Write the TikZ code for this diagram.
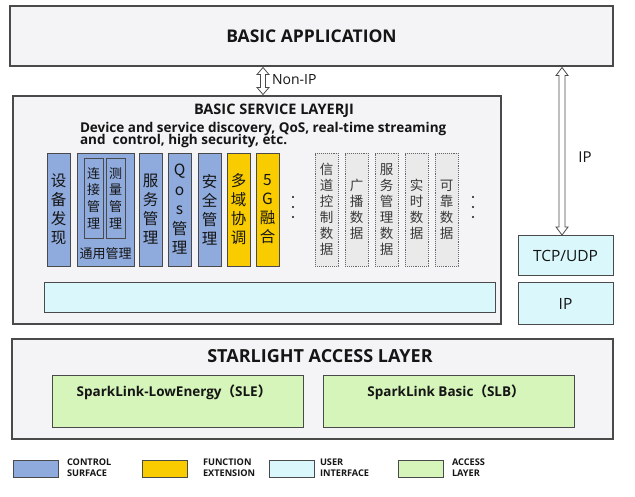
\documentclass[tikz,border=0pt]{standalone}
\usepackage{fontspec}
\setmainfont{Open Sans}
\newfontfamily\cjk{Noto Sans CJK SC}
\usetikzlibrary{calc}
\definecolor{boxgray}{HTML}{F4F3F6}
\definecolor{ctrlblue}{HTML}{8FAADC}
\definecolor{funcyel}{HTML}{F9CC00}
\definecolor{usercyan}{HTML}{DAF8FC}
\definecolor{accgreen}{HTML}{D5F5BA}
\definecolor{dotgray}{HTML}{EAEAEA}
\definecolor{edge}{HTML}{4A4A4A}
\definecolor{ink}{HTML}{151515}
\begin{document}
\begin{tikzpicture}[x=1pt,y=-1pt,
  every node/.style={inner sep=0pt,outer sep=0pt,text=ink},
  layerbox/.style={draw=edge,line width=1.1pt,fill=boxgray,anchor=north west},
  colbox/.style={draw=edge,line width=0.9pt,anchor=north west,minimum width=23pt,minimum height=113pt,font=\cjk\fontsize{15.5}{19}\selectfont,align=center},
  ctrl/.style={colbox,fill=ctrlblue},
  func/.style={colbox,fill=funcyel},
  inner/.style={draw=edge,line width=0.9pt,anchor=north west,minimum width=19pt,minimum height=80pt,font=\cjk\fontsize{13}{16.7}\selectfont,align=center},
  datbox/.style={draw=gray!80!black,densely dotted,line width=0.9pt,fill=dotgray,anchor=north west,minimum width=23pt,minimum height=113pt,font=\cjk\fontsize{13.5}{16}\selectfont,align=center,text=ink!85},
  cyanbox/.style={draw=edge,line width=1pt,fill=usercyan,anchor=north west},
  greenbox/.style={draw=edge,line width=1pt,fill=accgreen,anchor=north west},
  swatch/.style={draw=edge,line width=0.9pt,anchor=north west,minimum width=45pt,minimum height=17pt},
  legtext/.style={anchor=west,align=left,font=\bfseries\fontsize{9.2}{11}\selectfont},
  hollow/.style={draw=edge,line width=0.8pt,fill=white},
  dot/.style={circle,fill=ink,minimum size=2.3pt}
]
\useasboundingbox[fill=white] (0,0) rectangle (635,497);

% Basic application
\node[layerbox,minimum width=603pt,minimum height=60pt,font=\bfseries\fontsize{17.5}{19}\selectfont] (app) at (10,6) {BASIC APPLICATION};

% Basic service layer
\node[layerbox,minimum width=488pt,minimum height=228pt] (svc) at (13,96) {};
\node[font=\bfseries\fontsize{14.5}{16}\selectfont] (svctitle) at (274,111) {BASIC SERVICE LAYERJI};
\node[anchor=west,font=\bfseries\fontsize{13.5}{14}\selectfont] (sub1) at (80,129) {Device and service discovery, QoS, real-time streaming};
\node[anchor=west,font=\bfseries\fontsize{13.5}{14}\selectfont] (sub2) at (80,141) {and\ \ control, high security, etc.};

% control columns
\node[ctrl] (c1) at (47,153) {设\\备\\发\\现};
\node[colbox,fill=ctrlblue,minimum width=57pt] (grp) at (77,153) {};
\node[inner] (in1) at (84,158) {连\\接\\管\\理};
\node[inner] (in2) at (106,158) {测\\量\\管\\理};
\node[font=\cjk\fontsize{13}{15}\selectfont] (grplabel) at (105.5,254) {通用管理};
\node[ctrl] (c3) at (139,153) {服\\务\\管\\理};
\node[ctrl,font=\cjk\fontsize{15.5}{19.5}\selectfont] (c4) at (168,153) {Q\\o\\s\\管\\理};
\node[ctrl] (c5) at (198,153) {安\\全\\管\\理};
\node[func] (c6) at (227,153) {多\\域\\协\\调};
\node[func] (c7) at (256,153) {5\\G\\融\\合};
\node[dot] (da1) at (293,197) {};
\node[dot] (da2) at (293,207) {};
\node[dot] (da3) at (293,217) {};

% data columns
\node[datbox] (d1) at (315,153) {信\\道\\控\\制\\数\\据};
\node[datbox] (d2) at (345,153) {广\\播\\数\\据};
\node[datbox] (d3) at (375,153) {服\\务\\管\\理\\数\\据};
\node[datbox] (d4) at (405,153) {实\\时\\数\\据};
\node[datbox] (d5) at (435,153) {可\\靠\\数\\据};
\node[dot] (db1) at (473,197) {};
\node[dot] (db2) at (473,207) {};
\node[dot] (db3) at (473,217) {};

% user interface bar
\node[cyanbox,minimum width=451pt,minimum height=30pt] (bar) at (44,283) {};

% TCP/UDP and IP
\node[cyanbox,minimum width=95pt,minimum height=40pt,font=\fontsize{15.5}{17}\selectfont] (tcp) at (518,236) {TCP/UDP};
\node[cyanbox,minimum width=95pt,minimum height=42pt,font=\fontsize{15.5}{17}\selectfont] (ip) at (518,283) {IP};

% Starlight access layer
\node[layerbox,minimum width=601pt,minimum height=100pt] (star) at (12,339) {};
\node[font=\bfseries\fontsize{18}{20}\selectfont] (startitle) at (320,356) {STARLIGHT ACCESS LAYER};
\node[greenbox,minimum width=251pt,minimum height=52pt] (sle) at (52,375) {};
\node[font=\bfseries\fontsize{13.5}{15}\selectfont] (sletext) at (174,392) {SparkLink-LowEnergy{\cjk （}SLE{\cjk ）}};
\node[greenbox,minimum width=251pt,minimum height=52pt] (slb) at (323,375) {};
\node[font=\bfseries\fontsize{13.5}{15}\selectfont] (slbtext) at (446,392) {SparkLink Basic{\cjk （}SLB{\cjk ）}};

% arrows
\coordinate (nT) at (263,67.5);
\coordinate (nB) at (263,94.5);
\draw[hollow] (nT) -- ($(nT)+(6,7)$) -- ($(nT)+(2.5,7)$) -- ($(nB)+(2.5,-7)$) -- ($(nB)+(6,-7)$) -- (nB)
  -- ($(nB)+(-6,-7)$) -- ($(nB)+(-2.5,-7)$) -- ($(nT)+(-2.5,7)$) -- ($(nT)+(-6,7)$) -- cycle;
\node[anchor=west,font=\fontsize{14}{16}\selectfont] (nonip) at (272,80) {Non-IP};

\coordinate (iT) at (562,67.5);
\coordinate (iB) at (562,235);
\draw[hollow] (iT) -- ($(iT)+(6,8)$) -- ($(iT)+(3,8)$) -- ($(iB)+(3,-8)$) -- ($(iB)+(6,-8)$) -- (iB)
  -- ($(iB)+(-6,-8)$) -- ($(iB)+(-3,-8)$) -- ($(iT)+(-3,8)$) -- ($(iT)+(-6,8)$) -- cycle;
\node[font=\fontsize{15}{17}\selectfont] (iplabel) at (585,157) {IP};

% legend
\node[swatch,fill=ctrlblue] (l1) at (13,460) {};
\node[legtext] (l1t) at (67,467.5) {CONTROL\\SURFACE};
\node[swatch,fill=funcyel] (l2) at (142,460) {};
\node[legtext] (l2t) at (203,467.5) {FUNCTION\\EXTENSION};
\node[swatch,fill=usercyan] (l3) at (269,460) {};
\node[legtext] (l3t) at (320,467.5) {USER\\INTERFACE};
\node[swatch,fill=accgreen] (l4) at (398,460) {};
\node[legtext] (l4t) at (452,467.5) {ACCESS\\LAYER};
\end{tikzpicture}
\end{document}
